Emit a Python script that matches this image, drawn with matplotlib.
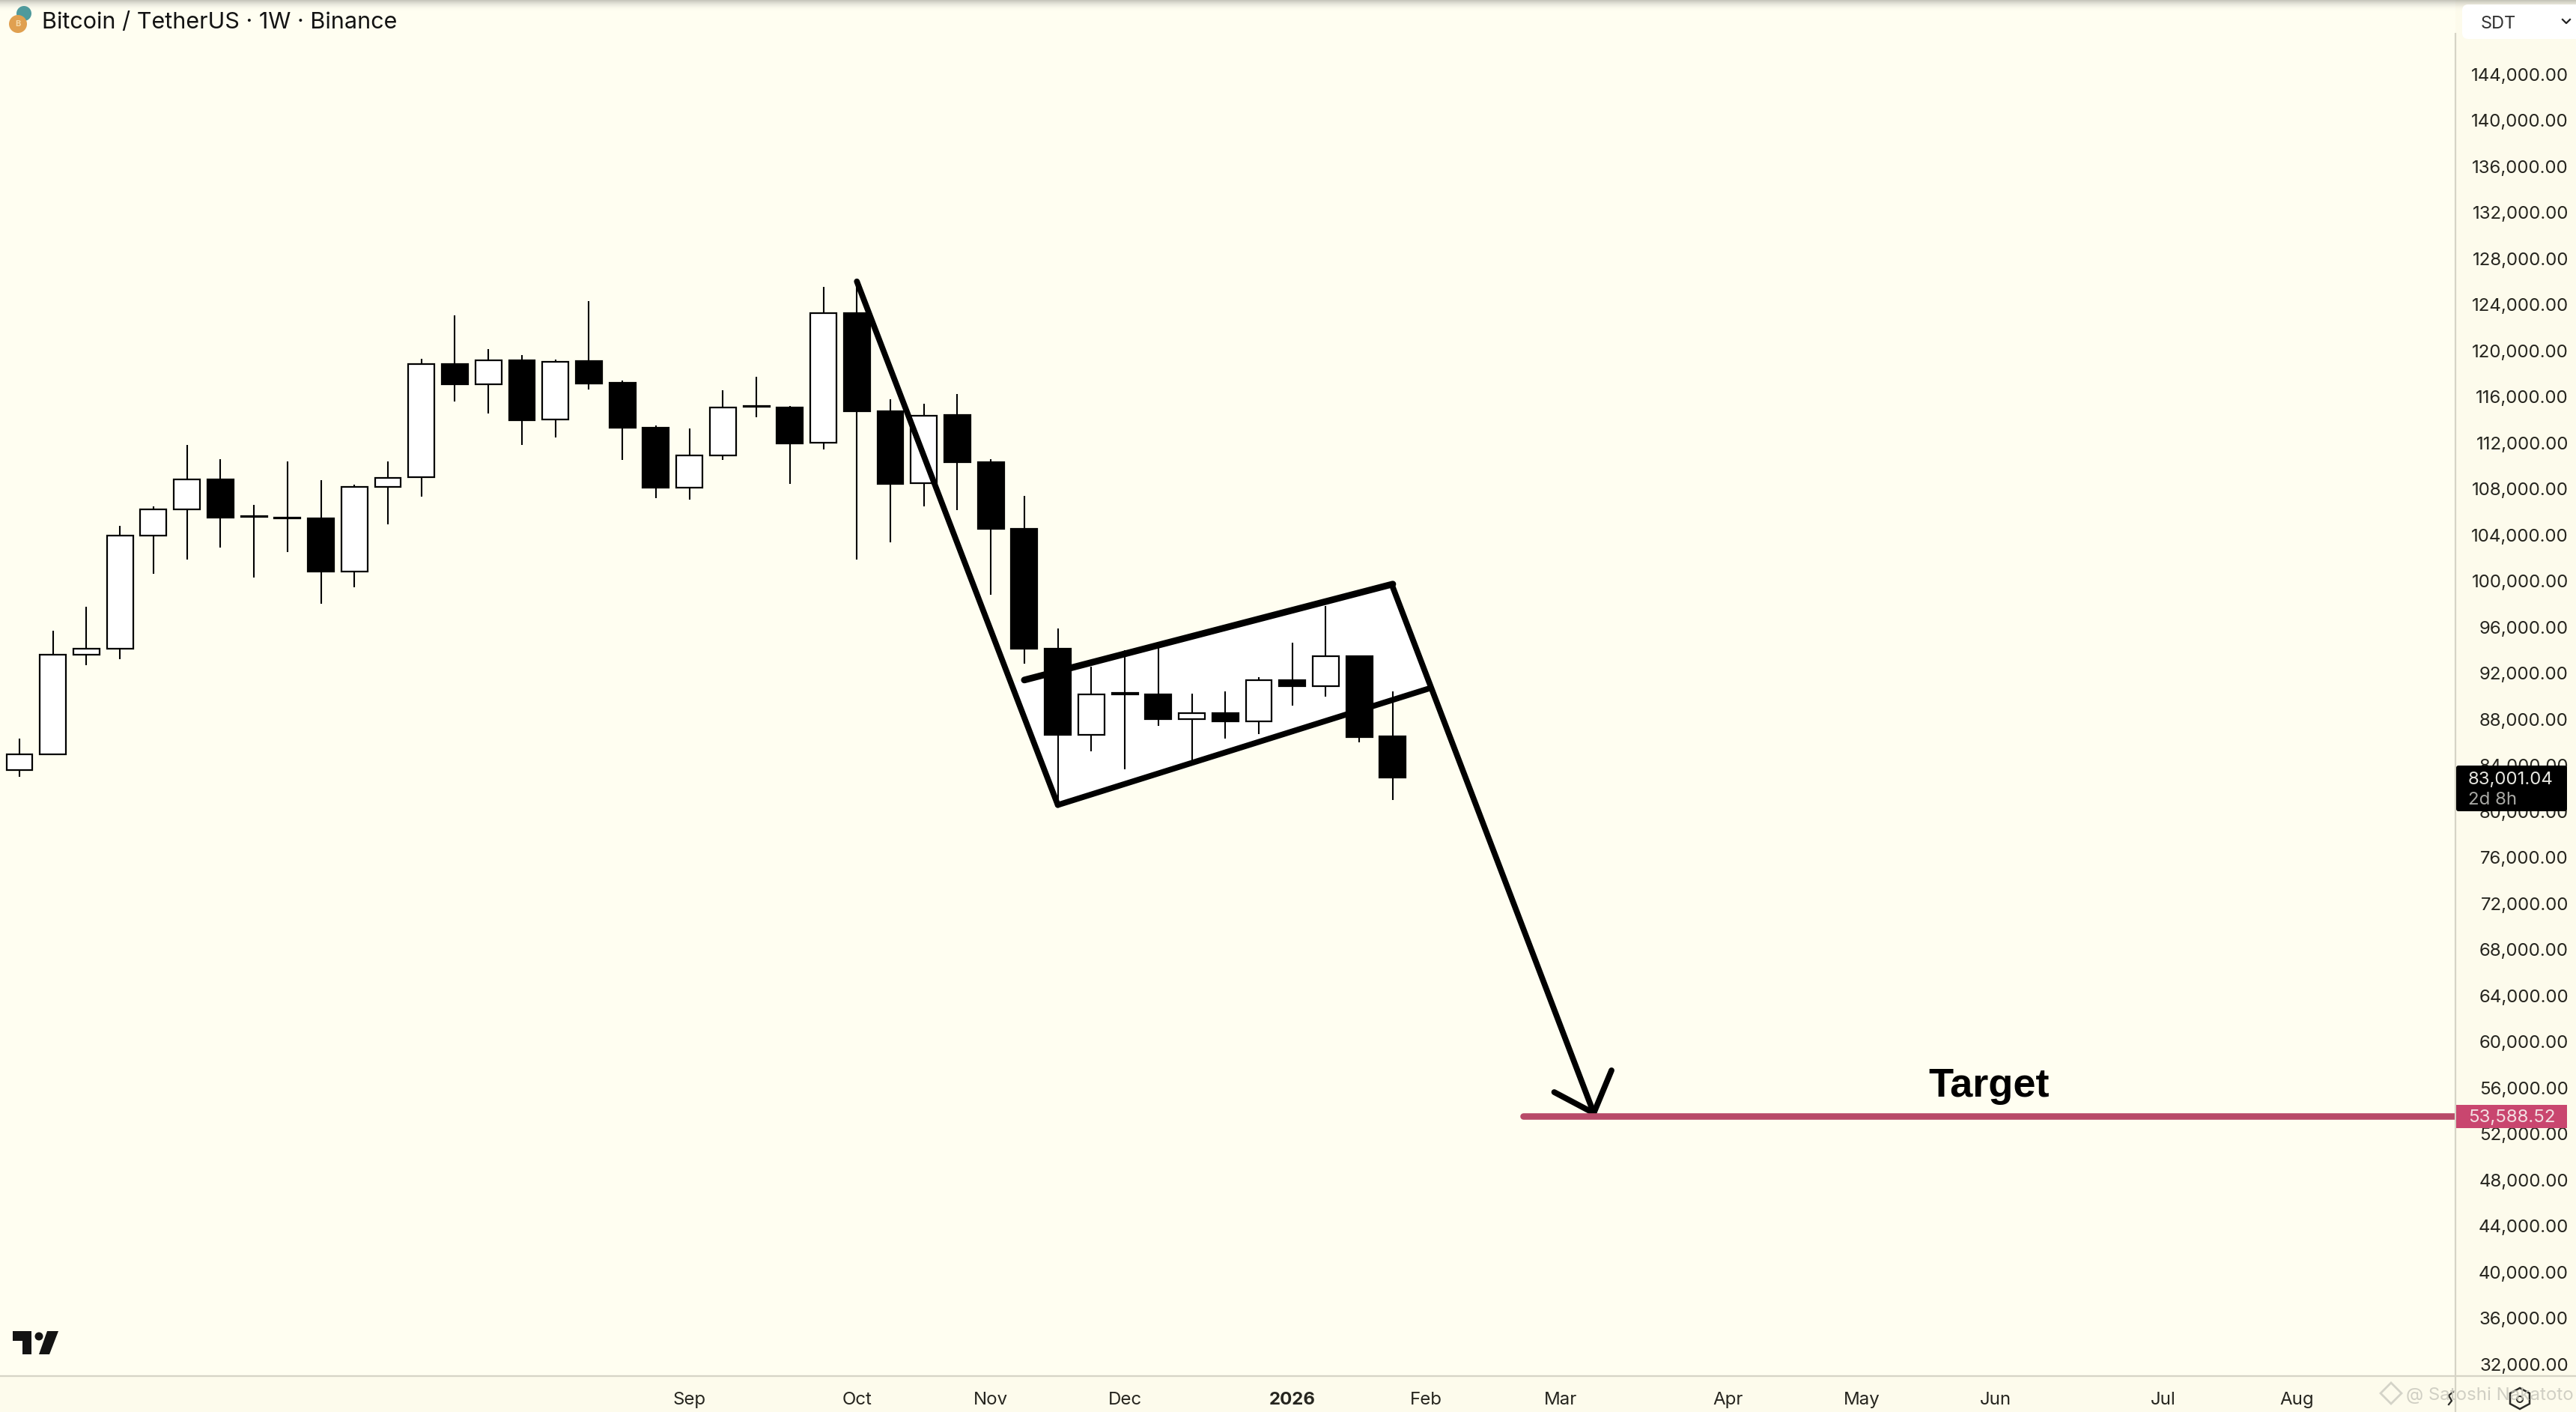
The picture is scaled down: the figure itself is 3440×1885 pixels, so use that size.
import matplotlib
matplotlib.use('Agg')
import matplotlib.pyplot as plt
import numpy as np
from matplotlib.patches import Circle, FancyBboxPatch, Polygon, Rectangle

# weekly candles
opens = [83611, 85037, 93631, 94162, 103983, 106306, 108894, 105610, 105576, 105510, 100864, 108197, 109060, 118914,
         117123, 119246, 114070, 119146, 117255, 113373, 108131, 110985, 115165, 115098, 112065, 123347, 114786, 108548,
         114454, 110406, 104566, 94148, 86716, 90332, 90233, 88043, 88574, 87844, 91460, 90896, 93551, 86550]
closes = [85037, 93631, 94162, 103983, 106306, 108861, 105543, 105676, 105510, 100864, 108197, 109027, 118914, 117123,
          119246, 114037, 119113, 117222, 113340, 108131, 110985, 115132, 115265, 112013, 123347, 114786, 108482, 114421,
          110373, 104566, 94148, 86716, 90233, 90233, 88043, 88574, 87844, 91427, 90896, 93551, 86517, 83001]
highs = [86365, 95721, 97812, 104846, 106505, 111880, 110619, 106671, 110453, 108794, 108430, 110453, 119346, 123128,
         120175, 119678, 119280, 124356, 117454, 113539, 113307, 116592, 117786, 115265, 125603, 126067, 115848, 115417,
         116279, 110639, 107420, 95940, 92622, 94048, 94215, 90299, 90498, 91692, 94712, 97864, 93551, 90465]
lows = [83047, 85037, 92735, 93266, 100665, 101926, 102955, 100334, 102590, 98110, 99504, 104979, 107367, 115630,
        114601, 111847, 112511, 116658, 110586, 107235, 107135, 110553, 114269, 108496, 111468, 101945, 103439, 106524,
        106226, 98893, 92887, 80943, 85256, 83697, 87479, 84492, 86351, 86749, 89237, 90034, 86019, 81042]

month_pos = [20, 25, 29, 33, 38, 42, 46, 51, 55, 59, 64, 68]
month_labels = ['Sep', 'Oct', 'Nov', 'Dec', '2026', 'Feb', 'Mar', 'Apr', 'May', 'Jun', 'Jul', 'Aug']
price_ticks = list(range(32000, 148000, 4000))

target_price = 53588.52
last_price = 83001.04

# hand drawn lines: (candle index, price)
impulse_line = ([25.0, 31.0], [126067, 80611])
flag_lower = ([31.0, 42.09], [80611, 90731])
flag_upper = ([30.0, 41.0], [91460, 99788])
projection = ([41.0, 47.0], [99520, 53855])
arrow_left = ([45.82, 47.0], [55675, 53855])
arrow_right = ([47.53, 47.0], [57565, 53855])

BG = '#fffef1'
PANEL = '#fdfbec'
EDGE = '#d6d4c6'
PINK = '#b84a68'
W, H = 3440, 1885
PANE_R, PANE_B = 3279, 1837
STEP = 44.73
X0 = 26
PX_PER_USD = 0.015375


def price_at(py):
    return 144000 - (py - 100) / PX_PER_USD


fig = plt.figure(figsize=(W / 100, H / 100), dpi=100, facecolor=PANEL)
plt.rcParams['font.family'] = ['Inter', 'DejaVu Sans']

ax = fig.add_axes([0, 1 - PANE_B / H, PANE_R / W, PANE_B / H])
ax.set_facecolor(BG)
ax.set_xlim(-X0 / STEP, (PANE_R - X0) / STEP)
ax.set_ylim(price_at(PANE_B), price_at(0))
for s in ax.spines.values():
    s.set_visible(False)

# the flag is filled white, left edge is where the upper line crosses the impulse line
m1 = np.polyfit(*impulse_line, 1)
m2 = np.polyfit(*flag_upper, 1)
cross_x = (m2[1] - m1[1]) / (m1[0] - m2[0])
cross_y = np.polyval(m2, cross_x)
ax.add_patch(Polygon([(impulse_line[0][1], impulse_line[1][1]), (flag_lower[0][1], flag_lower[1][1]),
                      (flag_upper[0][1], flag_upper[1][1]), (cross_x, cross_y)], fc='white', ec='none', zorder=1))

idx = np.arange(len(opens))
o, c = np.array(opens), np.array(closes)
up = c >= o
ax.vlines(idx, lows, highs, color='black', lw=1.5, zorder=2)
ax.bar(idx, np.abs(c - o), bottom=np.minimum(o, c), width=0.78, color=np.where(up, 'white', 'black'),
       edgecolor='black', linewidth=1.6, zorder=3)

for xs, ys in [impulse_line, flag_lower, projection]:
    ax.plot(xs, ys, color='black', lw=5.6, solid_capstyle='round', zorder=4)
ax.plot(*flag_upper, color='black', lw=6.4, solid_capstyle='round', zorder=2.5)
for xs, ys in [arrow_left, arrow_right]:
    ax.plot(xs, ys, color='black', lw=5.6, solid_capstyle='round', zorder=4)

ax.plot([44.9, (PANE_R - X0) / STEP], [target_price, target_price], color=PINK, lw=6.2,
        solid_capstyle='round', zorder=5)
ax.text(58.8, 55300, 'Target', family='Liberation Sans', fontsize=39, fontweight='bold', color='black',
        ha='center', va='baseline', zorder=6)

ax.set_xticks(month_pos)
ax.set_xticklabels(month_labels, fontsize=17.3, color='#26251f')
ax.get_xticklabels()[4].set_fontweight('bold')
ax.tick_params(axis='x', length=0, pad=15)
ax.set_yticks([])

# everything outside the plot pane goes on a pixel overlay
ov = fig.add_axes([0, 0, 1, 1], zorder=5)
ov.set_xlim(0, W)
ov.set_ylim(H, 0)
ov.axis('off')
ov.patch.set_alpha(0)

ov.plot([PANE_R, PANE_R], [45, H], color=EDGE, lw=1.6)
ov.plot([0, W], [PANE_B, PANE_B], color=EDGE, lw=1.6)

for p in price_ticks:
    py = 100 + (144000 - p) * PX_PER_USD
    if 0 < py < PANE_B:
        ov.text(3430, py - 1, f'{p:,.2f}', fontsize=17.3, color='#26251f', ha='right', va='center_baseline', zorder=1)

# top shadow strip
ov.imshow(np.linspace(0, 1, 16).reshape(-1, 1), extent=(0, W, 16, 0), cmap='gray', vmin=0, vmax=1,
          alpha=np.linspace(0.22, 0, 16).reshape(-1, 1), aspect='auto', zorder=1)
ov.set_xlim(0, W)
ov.set_ylim(H, 0)

ov.add_patch(FancyBboxPatch((3288, 6), 170, 46, boxstyle='round,pad=0,rounding_size=8', fc='white', ec='none', zorder=2))
ov.text(3313, 29, 'SDT', fontsize=17, color='#333333', va='center_baseline', zorder=3)
ov.plot([3422, 3427, 3432], [26, 31, 26], color='#222222', lw=1.6, zorder=3)

# symbol title and coin icons
ov.add_patch(Circle((32, 18), 10, fc='#4f9a9c', ec='none', zorder=3))
ov.add_patch(Circle((24, 32), 12, fc='#e0a050', ec='none', zorder=4))
ov.text(24, 32, 'B', fontsize=8, fontweight='bold', color='#f5d9a8', ha='center', va='center', zorder=5)
ov.text(56, 27, 'Bitcoin / TetherUS · 1W · Binance', fontsize=22, color='#131313', family='Inter',
        va='center_baseline', zorder=3)

# last price and target price tags
ov.add_patch(FancyBboxPatch((3280, 1022), 148, 61, boxstyle='round,pad=0,rounding_size=3', fc='black', ec='none', zorder=4))
ov.text(3296, 1038, f'{last_price:,.2f}', fontsize=17.3, color='#e6e6e0', va='center_baseline', zorder=5)
ov.text(3296, 1065, '2d 8h', fontsize=17.3, color='#a8a8a4', va='center_baseline', zorder=5)
ov.add_patch(Rectangle((3280, 1475), 148, 31, fc='#c9466f', ec='none', zorder=4))
ov.text(3296, 1489, f'{target_price:,.2f}', fontsize=17.3, color='#f3dfe2', va='center_baseline', zorder=5)

# TradingView logo
ov.add_patch(Polygon([(17, 1777), (42, 1777), (42, 1808), (30, 1808), (30, 1790), (17, 1790)], fc='#131313', ec='none'))
ov.add_patch(Circle((52, 1784), 5.5, fc='#131313', ec='none'))
ov.add_patch(Polygon([(63, 1777), (78, 1777), (66, 1808), (52, 1808)], fc='#131313', ec='none'))

# bottom right icons and watermark
ov.add_patch(Polygon([(3365, 1853), (3378, 1860), (3378, 1874), (3365, 1881), (3352, 1874), (3352, 1860)],
                     fc='none', ec='#2a2a26', lw=1.8, zorder=3))
ov.add_patch(Circle((3365, 1868), 4, fc='none', ec='#2a2a26', lw=1.4, zorder=3))
ov.plot([3276, 3270, 3274, 3270], [1858, 1863, 1870, 1875], color='#2a2a26', lw=1.6, zorder=3)
ov.text(3213, 1860, '@ Satoshi Nakatoto', fontsize=17.3, color='#c9c8bd', alpha=0.85, va='center_baseline', zorder=6)
ov.add_patch(Polygon([(3193, 1846), (3207, 1860), (3193, 1874), (3179, 1860)], fc='none', ec='#d4d3c8', lw=2, zorder=6))

fig.savefig('out.png', dpi=100, facecolor=fig.get_facecolor())
